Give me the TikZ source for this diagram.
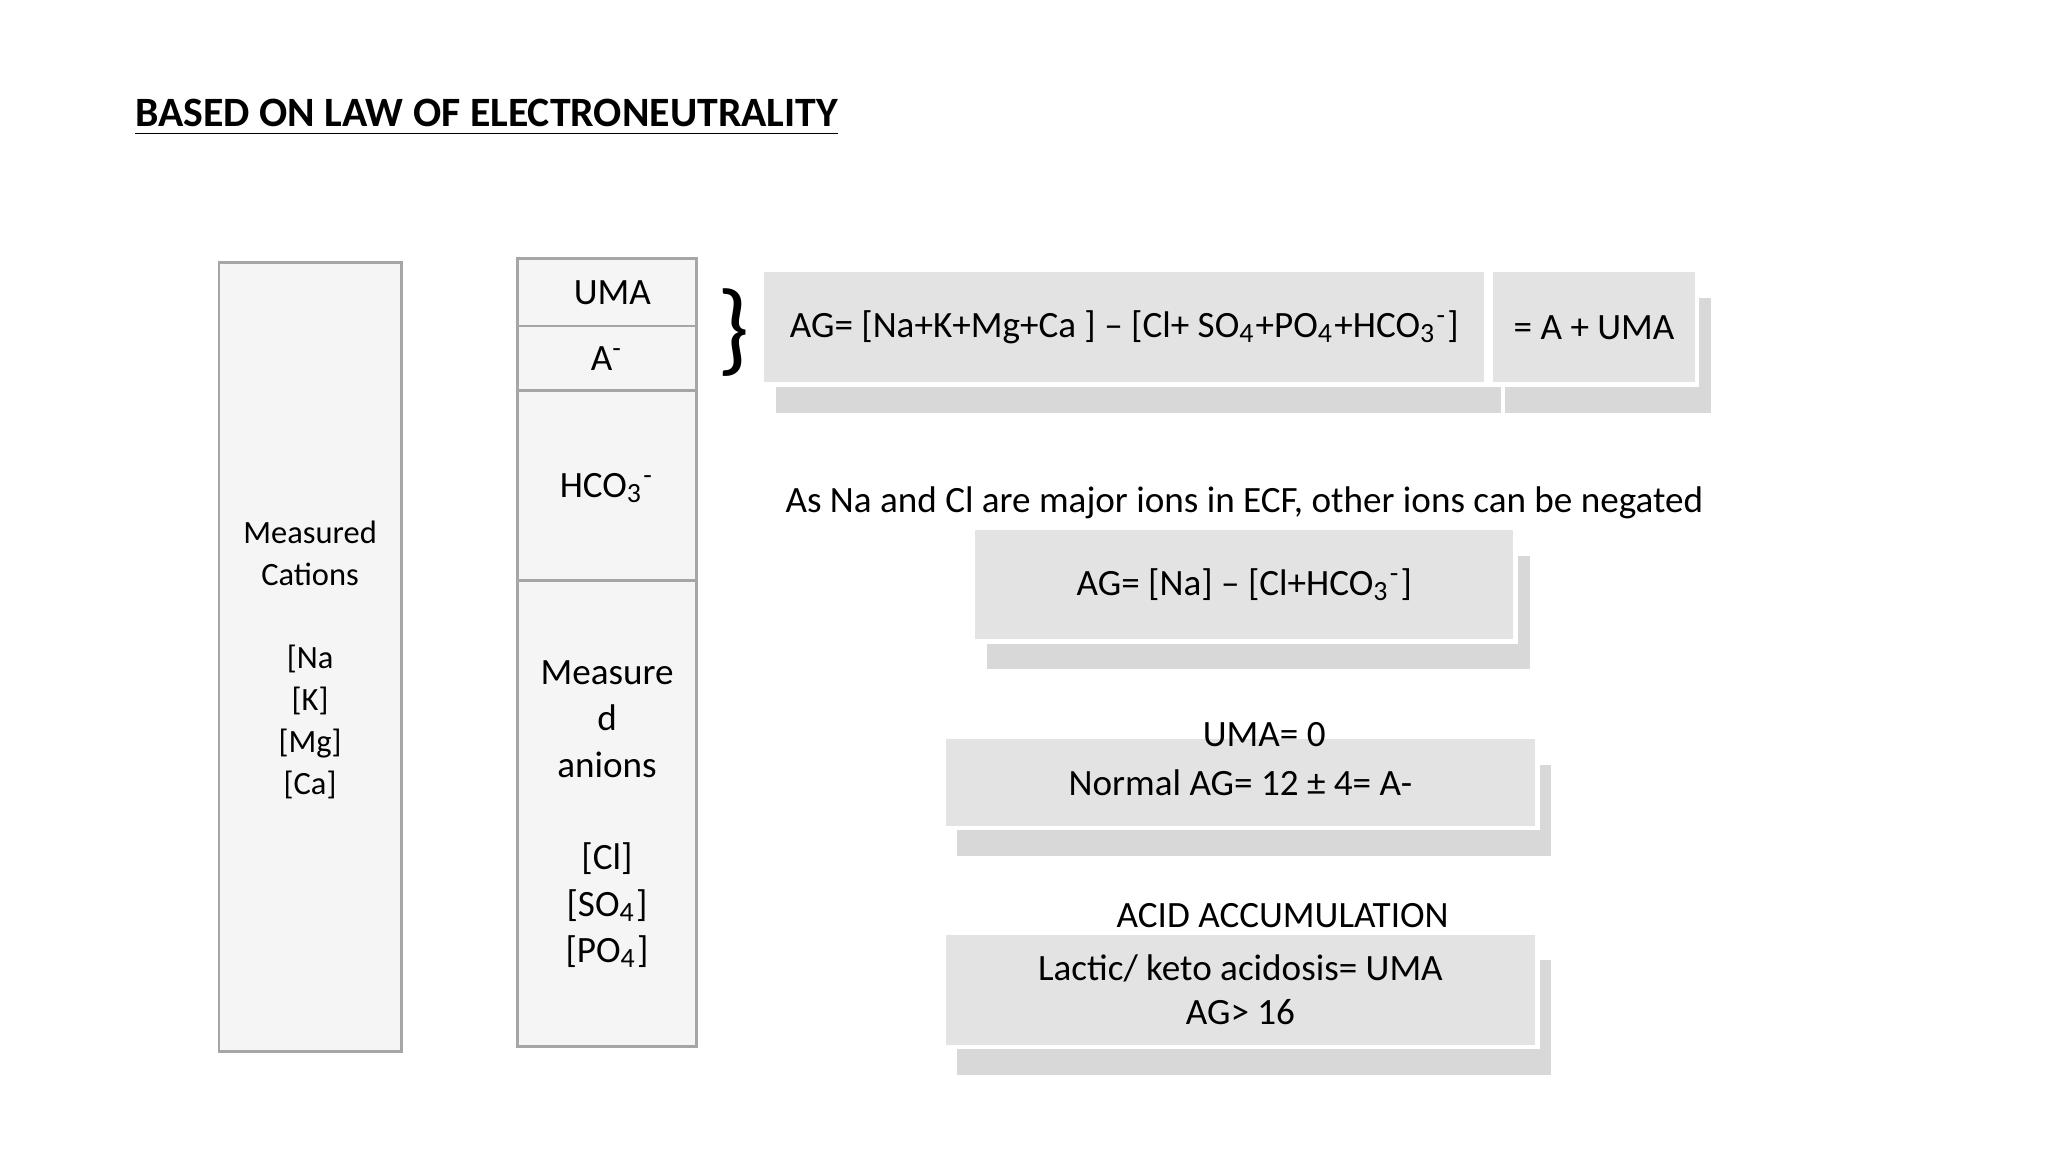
\documentclass[tikz,border=0pt]{standalone}
\usepackage{fontspec}
\setmainfont{Carlito}
\usetikzlibrary{shadows}
\tikzset{x=0.01cm,y=-0.01cm,
  column/.style={draw=gray!70,line width=0.6pt,fill=gray!8},
  cell/.style={font=\fontsize{8}{9}\selectfont,align=center},
  bar/.style={fill=gray!22,draw=white,line width=1pt,inner sep=0pt,
    drop shadow={shadow xshift=3pt,shadow yshift=-6pt,fill=gray!60,opacity=0.5}},
  txt/.style={font=\fontsize{8}{9.5}\selectfont,align=center}}
\begin{document}
\begin{tikzpicture}
        \useasboundingbox (0,0) rectangle (1552,873);
        \node[anchor=base west,font=\fontsize{9}{10}\selectfont\bfseries] (title) at (90,96) {\underline{BASED ON LAW OF ELECTRONEUTRALITY}};
        % cation column
        \draw[column] (166,199) rectangle (304,797);
        \node[cell,font=\fontsize{7}{9}\selectfont] (cations) at (235,500) {Measured\\Cations\\[\baselineskip][Na\\{[K]}\\{[Mg]}\\{[Ca]}};
        % anion column
        \draw[column] (392,196) rectangle (528,793);
        \draw[gray!70,line width=0.6pt] (392,247) -- (528,247) (392,296) -- (528,296) (392,440) -- (528,440);
        \node[cell] (uma) at (464,222) {UMA};
        \node[cell] (a) at (460,272) {A\textsuperscript{-}};
        \node[cell] (hco) at (460,370) {HCO\textsubscript{3}\textsuperscript{-}};
        \node[cell,font=\fontsize{8}{10}\selectfont] (anions) at (460,617) {Measure\\d\\anions\\[\baselineskip]{[Cl]}\\{[SO\textsubscript{4}]}\\{[PO\textsubscript{4}]}};
        \node[font=\fontsize{22}{22}\selectfont] (brace) at (556,252) {\}};
        % boxes
        \node[bar,minimum width=5.49cm,minimum height=0.87cm,txt] (ag) at (852,248) {AG= [Na+K+Mg+Ca ] – [Cl+ SO\textsubscript{4}+PO\textsubscript{4}+HCO\textsubscript{3}\textsuperscript{-}]};
        \node[bar,minimum width=1.56cm,minimum height=0.87cm,txt] (sum) at (1208,248) {= A + UMA};
        \node[txt] (note) at (943,381) {As Na and Cl are major ions in ECF, other ions can be negated};
        \node[bar,minimum width=4.11cm,minimum height=0.86cm,txt] (agsimple) at (943,443) {AG= [Na] – [Cl+HCO\textsubscript{3}\textsuperscript{-}]};
        \node[bar,minimum width=4.5cm,minimum height=0.69cm,txt] (normal) at (940,593) {Normal AG= 12 ± 4= A-};
        \node[txt] (umazero) at (958,557) {UMA= 0};
        \node[txt] (acid) at (972,694) {ACID ACCUMULATION};
        \node[bar,minimum width=4.5cm,minimum height=0.87cm,txt] (lactic) at (940,750) {Lactic/ keto acidosis= UMA\\AG> 16};
\end{tikzpicture}
\end{document}
